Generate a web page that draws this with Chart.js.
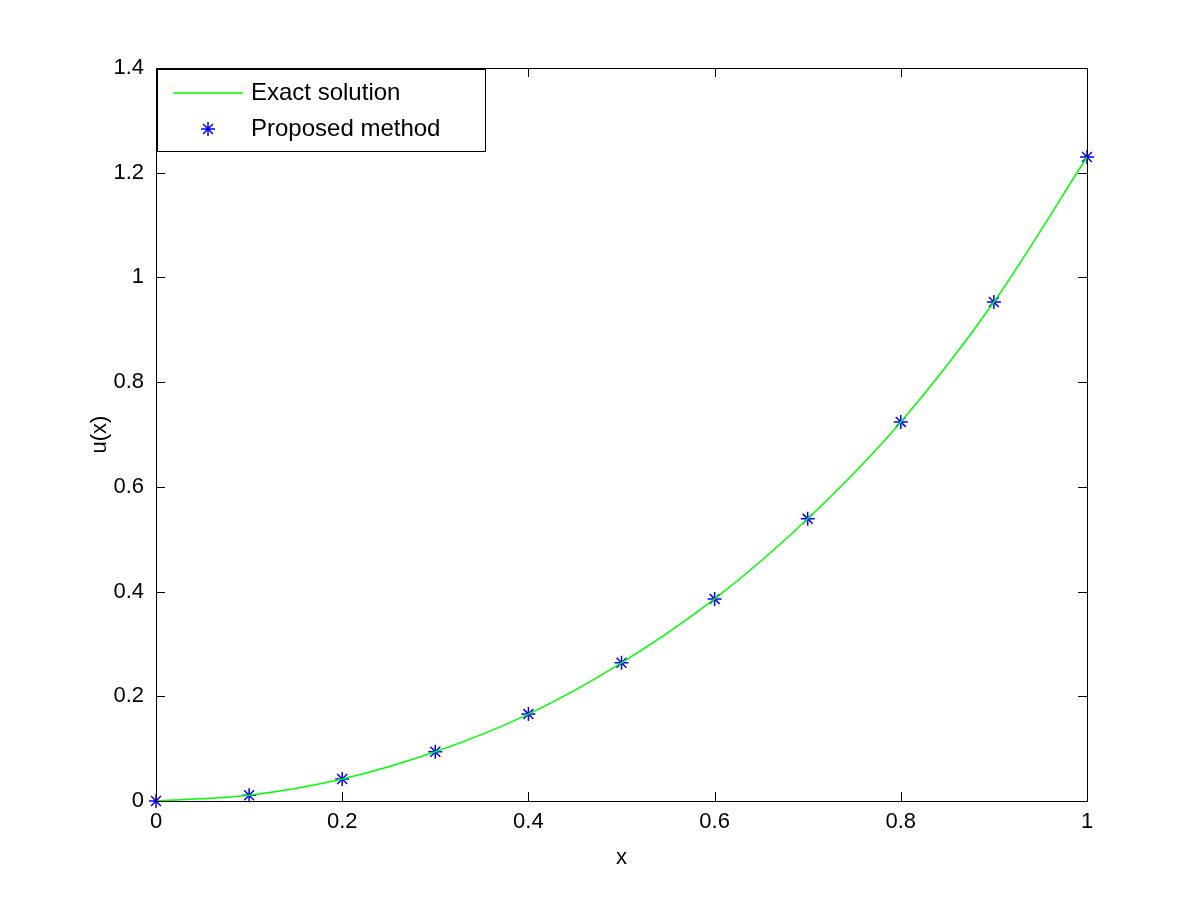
<!DOCTYPE html>
<html><head><meta charset="utf-8">
<script src="https://cdn.jsdelivr.net/npm/chart.js@4"></script>
<style>html,body{margin:0;padding:0;background:#fff}#w{width:1200px;height:902px}</style>
</head><body><div id="w"><canvas id="c"></canvas></div>
<script>
const xValues=[0,0.1,0.2,0.3,0.4,0.5,0.6,0.7,0.8,0.9,1.0];
const exactValues=[0,0.011,0.042,0.094,0.166,0.264,0.386,0.539,0.724,0.953,1.230];
const methodValues=[0,0.011,0.042,0.094,0.166,0.264,0.386,0.539,0.724,0.953,1.230];
const xTicks=[0,0.2,0.4,0.6,0.8,1];
const yTicks=[0,0.2,0.4,0.6,0.8,1,1.2,1.4];
const FONT='"Liberation Sans", Arial, sans-serif';
const frame={id:'frame',afterDraw(ch){
 const c=ch.ctx,a=ch.chartArea,xs=ch.scales.x,ys=ch.scales.y;
 c.save();c.strokeStyle='#000';c.lineWidth=1;
 c.strokeRect(a.left+0.5,a.top+0.5,a.right-a.left,a.bottom-a.top);
 c.beginPath();
 xTicks.forEach(v=>{const p=Math.round(xs.getPixelForValue(v))+0.5;c.moveTo(p,a.bottom);c.lineTo(p,a.bottom-9);c.moveTo(p,a.top);c.lineTo(p,a.top+9);});
 yTicks.forEach(v=>{const p=Math.round(ys.getPixelForValue(v))+0.5;c.moveTo(a.left,p);c.lineTo(a.left+9,p);c.moveTo(a.right,p);c.lineTo(a.right-9,p);});
 c.stroke();
 c.fillStyle='#000';c.font='22px '+FONT;c.textAlign='center';c.textBaseline='middle';
 c.fillText('x',(a.left+a.right)/2,858);
 c.save();c.translate(100,(a.top+a.bottom)/2);c.rotate(-Math.PI/2);c.fillText('u(x)',0,0);c.restore();
 c.textAlign='left';
 // legend
 const L=a.left+1,T=a.top+1,W=328,H=82;
 c.fillStyle='#fff';c.fillRect(L,T,W,H);c.strokeRect(L+0.5,T+0.5,W,H);
 c.strokeStyle='#00ff00';c.lineWidth=1.5;c.beginPath();c.moveTo(L+16,T+24);c.lineTo(L+86,T+24);c.stroke();
 c.strokeStyle='#0000ff';c.lineWidth=1.5;const cx=L+51,cy=T+60,r=7;c.beginPath();
 for(let k=0;k<4;k++){const t=k*Math.PI/4;c.moveTo(cx-r*Math.cos(t),cy-r*Math.sin(t));c.lineTo(cx+r*Math.cos(t),cy+r*Math.sin(t));}
 c.stroke();
 c.fillStyle='#000';c.font='24px '+FONT;c.textBaseline='middle';
 c.fillText('Exact solution',L+94,T+24);c.fillText('Proposed method',L+94,T+60);
 c.restore();}};
new Chart(document.getElementById('c'),{type:'scatter',
 data:{datasets:[
  {label:'Exact solution',data:xValues.map((x,i)=>({x,y:exactValues[i]})),showLine:true,borderColor:'#00ff00',borderWidth:1.5,pointRadius:0,tension:0.3},
  {label:'Proposed method',data:xValues.map((x,i)=>({x,y:methodValues[i]})),showLine:false,clip:false,pointStyle:'star',pointRadius:7,borderColor:'#0000ff',backgroundColor:'#0000ff',borderWidth:1.5}]},
 options:{responsive:true,maintainAspectRatio:false,animation:false,
  layout:{padding:{left:0,right:113,top:68,bottom:0}},
  plugins:{legend:{display:false},tooltip:{enabled:false}},
  scales:{
   x:{type:'linear',min:0,max:1,afterFit(s){s.height=101;},afterBuildTicks(s){s.ticks=xTicks.map(v=>({value:v}));},
      grid:{display:false,drawTicks:false},border:{display:false},
      ticks:{padding:8,color:'#000',font:{family:FONT,size:22},callback:v=>String(v)}},
   y:{type:'linear',min:0,max:1.4,afterFit(s){s.width=156;},afterBuildTicks(s){s.ticks=yTicks.map(v=>({value:v}));},
      grid:{display:false,drawTicks:false},border:{display:false},
      ticks:{padding:12,color:'#000',font:{family:FONT,size:22},callback:v=>String(Math.round(v*10)/10)}}}},
 plugins:[frame]});
</script></body></html>
